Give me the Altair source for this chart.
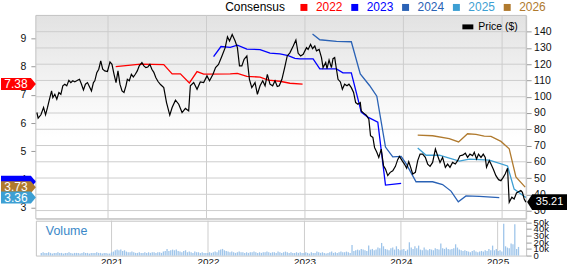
import altair as alt
import pandas as pd

FONT = "Liberation Sans"

# ---------------- data (decimal years / values) ----------------
price_t_2020 = [2020.279, 2020.292, 2020.320, 2020.347, 2020.367, 2020.387, 2020.407, 2020.428, 2020.441, 2020.461,
                2020.481, 2020.502, 2020.522, 2020.542, 2020.562, 2020.582, 2020.603, 2020.623, 2020.643, 2020.663,
                2020.691, 2020.711, 2020.731, 2020.751, 2020.771, 2020.792, 2020.812, 2020.832, 2020.852, 2020.866,
                2020.886, 2020.906, 2020.926, 2020.946, 2020.967, 2020.994]
price_v_2020 = [90.3, 86.8, 88.9, 93.4, 88.9, 93.4, 98.5, 103.6, 99.5, 101.5,
                98.5, 102.6, 101.5, 106.7, 107.7, 106.7, 110.1, 108.7, 109.8, 109.1,
                110.1, 110.7, 107.7, 104.2, 107.7, 108.7, 106.1, 103.6, 108.7, 109.8,
                114.8, 116.9, 122.0, 116.9, 115.9, 115.5]
price_t_2021 = [2021.020, 2021.040, 2021.061, 2021.081, 2021.101, 2021.121, 2021.142, 2021.162, 2021.182, 2021.196,
                2021.216, 2021.237, 2021.257, 2021.277, 2021.297, 2021.317, 2021.344, 2021.364, 2021.384, 2021.404,
                2021.425, 2021.445, 2021.465, 2021.485, 2021.506, 2021.533, 2021.566, 2021.594, 2021.627, 2021.651,
                2021.685, 2021.718, 2021.752, 2021.786, 2021.819, 2021.836, 2021.870, 2021.904, 2021.937, 2021.971]
price_v_2021 = [121.4, 119.9, 113.8, 108.7, 115.9, 107.7, 103.6, 102.6, 106.7, 110.7,
                109.8, 113.8, 112.2, 113.8, 115.9, 119.0, 121.0, 119.0, 117.9, 118.3,
                119.9, 116.9, 115.0, 111.8, 109.5, 107.5, 105.6, 96.4, 88.7, 93.4,
                97.9, 95.4, 90.3, 92.8, 91.3, 106.7, 108.7, 104.6, 109.1, 108.7]
price_t_2022 = [2022.005, 2022.031, 2022.066, 2022.092, 2022.122, 2022.157, 2022.190, 2022.213, 2022.234, 2022.261,
                2022.291, 2022.314, 2022.335, 2022.359, 2022.382, 2022.410, 2022.436, 2022.460, 2022.493, 2022.517,
                2022.544, 2022.571, 2022.595, 2022.618, 2022.645, 2022.672, 2022.696, 2022.719, 2022.739, 2022.766,
                2022.794, 2022.820, 2022.847, 2022.881, 2022.908, 2022.931, 2022.956, 2022.982]
price_v_2022 = [112.8, 109.8, 113.8, 117.9, 119.9, 125.1, 130.2, 136.9, 134.3, 138.3,
                134.3, 130.2, 119.0, 119.0, 123.0, 125.1, 110.7, 105.6, 108.7, 101.5,
                106.7, 109.8, 106.7, 113.8, 107.7, 106.7, 109.8, 106.3, 106.7, 110.7,
                117.9, 125.1, 127.0, 131.2, 134.9, 126.7, 125.1, 126.1]
price_t_2023 = [2023.016, 2023.032, 2023.057, 2023.077, 2023.100, 2023.117, 2023.144, 2023.168, 2023.184, 2023.211,
                2023.224, 2023.245, 2023.269, 2023.285, 2023.302, 2023.320, 2023.336, 2023.360, 2023.380, 2023.403,
                2023.427, 2023.447, 2023.471, 2023.494, 2023.515, 2023.538, 2023.562, 2023.572, 2023.596, 2023.623,
                2023.649, 2023.666, 2023.690, 2023.707, 2023.730, 2023.750, 2023.775, 2023.798, 2023.818, 2023.841,
                2023.866, 2023.892, 2023.919, 2023.942, 2023.960, 2023.987]
price_v_2023 = [130.2, 129.1, 132.2, 129.6, 131.2, 128.2, 129.1, 124.1, 117.9, 121.0,
                117.3, 122.6, 117.9, 123.4, 124.1, 116.9, 110.7, 109.1, 104.6, 107.7,
                106.7, 107.7, 105.6, 102.6, 96.4, 95.4, 96.4, 91.3, 89.9, 88.7,
                86.2, 76.0, 75.0, 68.8, 65.8, 62.7, 67.8, 57.6, 55.5, 51.5,
                53.5, 54.5, 57.2, 61.3, 63.3, 60.7]
price_t_2024 = [2024.010, 2024.033, 2024.054, 2024.068, 2024.094, 2024.121, 2024.145, 2024.169, 2024.195, 2024.222,
                2024.246, 2024.270, 2024.296, 2024.324, 2024.347, 2024.371, 2024.397, 2024.425, 2024.448, 2024.472,
                2024.498, 2024.526, 2024.549, 2024.573, 2024.600, 2024.627, 2024.650, 2024.674, 2024.701, 2024.718,
                2024.741, 2024.761, 2024.786, 2024.809, 2024.829, 2024.842, 2024.870, 2024.887, 2024.910, 2024.937,
                2024.964, 2024.988]
price_v_2024 = [58.6, 56.0, 60.1, 57.6, 52.5, 53.5, 60.7, 64.7, 64.7, 62.7,
                58.6, 57.2, 59.6, 67.8, 63.7, 59.6, 62.7, 56.6, 58.6, 56.6,
                59.6, 58.6, 60.7, 63.7, 64.1, 65.3, 62.7, 64.7, 63.7, 65.8,
                61.7, 64.7, 62.7, 64.7, 62.7, 56.6, 60.7, 58.6, 55.5, 51.5,
                49.0, 48.4]
price_t_2025 = [2025.011, 2025.031, 2025.055, 2025.072, 2025.099, 2025.122, 2025.146, 2025.166, 2025.190, 2025.206,
                2025.224, 2025.241]
price_v_2025 = [50.4, 52.5, 56.0, 35.1, 38.2, 37.1, 40.8, 41.6, 42.3, 41.2,
                37.1, 35.21]

# consensus EPS estimates (left axis)
c2022_t = [2021.078, 2021.331, 2021.566, 2021.651, 2021.735, 2021.826, 2021.904, 2021.971, 2022.241, 2022.314,
           2022.410, 2022.544, 2022.628, 2022.746, 2022.847, 2022.976]
c2022_v = [8.00, 8.09, 8.07, 7.74, 7.74, 7.42, 7.82, 7.73, 7.74, 7.76, 7.65, 7.63, 7.52, 7.48, 7.41, 7.38]
c2023_t = [2022.072, 2022.147, 2022.241, 2022.314, 2022.410, 2022.544, 2022.645, 2022.746, 2022.830, 2022.898,
           2022.948, 2023.083, 2023.151, 2023.320, 2023.386, 2023.471, 2023.572, 2023.639, 2023.740, 2023.818,
           2023.977]
c2023_v = [8.35, 8.71, 8.68, 8.76, 8.62, 8.60, 8.48, 8.45, 8.39, 8.29, 8.27, 8.27, 7.92, 7.92, 7.78, 7.78,
           6.39, 6.21, 6.03, 3.80, 3.86]
c2024_t = [2023.077, 2023.151, 2023.320, 2023.471, 2023.562, 2023.656, 2023.730, 2023.818, 2023.892, 2023.977,
           2024.027, 2024.128, 2024.296, 2024.397, 2024.482, 2024.556, 2024.634, 2024.769, 2024.971]
c2024_v = [9.15, 8.95, 8.89, 8.88, 7.74, 7.33, 6.95, 5.15, 4.80, 4.82, 4.56, 3.92, 3.92, 3.82, 3.59, 3.21,
           3.42, 3.40, 3.36]
c2025_t = [2024.145, 2024.230, 2024.364, 2024.566, 2024.667, 2024.870, 2025.055, 2025.122, 2025.241]
c2025_v = [5.12, 4.86, 4.86, 4.65, 4.72, 4.69, 4.48, 3.66, 3.36]
c2026_t = [2024.145, 2024.296, 2024.464, 2024.559, 2024.650, 2024.735, 2024.819, 2024.887, 2024.988, 2025.072,
           2025.140, 2025.234]
c2026_v = [5.57, 5.55, 5.45, 5.33, 5.62, 5.60, 5.54, 5.53, 5.35, 5.09, 4.09, 3.73]

cons_series = ["2022", "2023", "2024", "2025", "2026"]
cons_colors = ["#ff0000", "#0000ff", "#2a62b5", "#3d9fd3", "#b07a2e"]

# last-value tags on the left axis (drawn in this order; the 2023 tag is mostly hidden)
label_series = ["2022", "2023", "2026", "2025"]
label_values = [7.38, 3.92, 3.73, 3.36]
label_text = ["7.38", "", "3.73", "3.36"]
last_price = 35.21

price_ticks = [30, 40, 50, 60, 70, 80, 90, 100, 110, 120, 130, 140]
eps_ticks = [3, 4, 5, 6, 7, 8, 9]
year_ticks = [2021, 2022, 2023, 2024, 2025]

# weekly volume (thousands), from 2020-04-10
vol_start = "2020-04-10"
vol_2020 = [4, 5, 4, 4, 5, 4, 3, 4, 4, 5, 4, 4, 3, 4, 4, 5, 4, 3, 4, 4, 4, 3, 4, 5, 4, 4, 3, 4, 4, 4,
            5, 4, 4, 3, 4, 4, 3, 3]
vol_2021 = [5, 6, 8, 9, 8, 9, 7, 8, 6, 5, 5, 6, 5, 4, 4, 5, 4, 4, 5, 4, 5, 4, 5, 5, 4, 5, 5, 4, 6, 7,
            10, 7, 8, 9, 8, 9, 7, 6, 5, 7, 8, 5, 6, 5, 4, 6, 5, 5, 4, 5, 4, 4]
vol_2022 = [4, 5, 4, 5, 6, 5, 8, 9, 10, 8, 7, 6, 5, 6, 5, 4, 5, 6, 5, 5, 4, 5, 4, 5, 5, 6, 5, 4, 5, 4,
            5, 5, 6, 5, 4, 5, 5, 4, 6, 5, 4, 5, 6, 5, 4, 5, 4, 4, 5, 4, 5, 4]
vol_2023 = [4, 5, 4, 3, 5, 4, 4, 6, 5, 4, 5, 4, 3, 4, 5, 6, 4, 5, 4, 5, 6, 5, 5, 6, 5, 4,
            16, 7, 8, 9, 8, 10, 9, 8, 7, 15, 9, 10, 8, 9, 12, 11, 19, 14, 10, 9, 8, 11, 12, 9, 14, 10]
vol_2024 = [8, 9, 10, 7, 9, 20, 12, 10, 14, 11, 15, 9, 8, 12, 9, 8, 10, 9, 8, 11, 10, 9, 18, 11, 10, 12,
            10, 9, 10, 11, 17, 12, 9, 8, 7, 8, 7, 6, 5, 7, 8, 6, 5, 6, 7, 6, 8, 7, 10, 8, 15, 8]
vol_2025 = [10, 7, 8, 6, 48, 14, 12, 11, 18, 17, 47, 10, 13]
vol_ticks = [0, 10, 20, 30, 40, 50]

x_start, x_end = 2020.269, 2025.244
price_domain = [25, 150]
eps_domain = [2.612, 9.812]
vol_domain = [0, 52.5]


# ---------------- helpers ----------------
def to_ts(t):
    y = int(t)
    a = pd.Timestamp(year=y, month=1, day=1)
    b = pd.Timestamp(year=y + 1, month=1, day=1)
    return a + (b - a) * (t - y)


def to_dt(t):
    ts = to_ts(t)
    return alt.DateTime(year=ts.year, month=ts.month, date=ts.day, hours=ts.hour, minutes=ts.minute)


price_t = price_t_2020 + price_t_2021 + price_t_2022 + price_t_2023 + price_t_2024 + price_t_2025
price_v = price_v_2020 + price_v_2021 + price_v_2022 + price_v_2023 + price_v_2024 + price_v_2025
price_df = pd.DataFrame({"date": [to_ts(t) for t in price_t], "price": price_v, "name": "Price ($)"})

rows = []
for s, ts, vs in zip(cons_series, [c2022_t, c2023_t, c2024_t, c2025_t, c2026_t],
                     [c2022_v, c2023_v, c2024_v, c2025_v, c2026_v]):
    for t, v in zip(ts, vs):
        rows.append({"date": to_ts(t), "eps": v, "series": s})
cons_df = pd.DataFrame(rows)

label_df = pd.DataFrame({"series": label_series, "eps": label_values, "txt": label_text})
last_df = pd.DataFrame({"price": [last_price], "txt": [f"{last_price:.2f}"]})

vol_values = vol_2020 + vol_2021 + vol_2022 + vol_2023 + vol_2024 + vol_2025
vol_df = pd.DataFrame({"date": pd.date_range(vol_start, periods=len(vol_values), freq="7D"), "v": vol_values})

years_df = pd.DataFrame({"d": [pd.Timestamp(year=y, month=1, day=1) for y in year_ticks]})
one = pd.DataFrame({"a": [0]})

W, H_MAIN, H_VOL = 492, 204, 35

xscale = alt.Scale(domain=[to_dt(x_start), to_dt(x_end)])
price_scale = alt.Scale(domain=price_domain, nice=False, zero=False)
eps_scale = alt.Scale(domain=eps_domain, nice=False, zero=False)
vol_scale = alt.Scale(domain=vol_domain, nice=False)

color_expr = ("datum.value == '2022' ? '#ff0000' : datum.value == '2023' ? '#0000ff' : "
              "datum.value == '2024' ? '#2a62b5' : datum.value == '2025' ? '#3d9fd3' : '#b07a2e'")

cons_legend = alt.Legend(
    orient="none", legendX=190, legendY=-14, direction="horizontal",
    title="Consensus", titleOrient="left", titleFontSize=12, titleFontWeight="normal",
    titleColor="#000000", titleFont=FONT, titlePadding=12,
    labelFontSize=12, labelFont=FONT, symbolType="square", symbolSize=49,
    symbolStrokeWidth=0, labelOffset=6, columnPadding=6, padding=0,
    labelColor={"expr": color_expr}, symbolFillColor={"expr": color_expr}, symbolOpacity=1,
)
price_legend = alt.Legend(
    orient="none", legendX=428, legendY=6, title=None, labelFontSize=10.5, labelFont=FONT,
    labelColor="#000000", symbolType="M-1,-0.45L1,-0.45L1,0.45L-1,0.45Z", symbolSize=121,
    labelOffset=5, padding=0, symbolFillColor="#000000", symbolStrokeWidth=0, symbolOpacity=1,
)

left_axis = alt.Axis(orient="left", values=eps_ticks, title=None, tickSize=5, labelPadding=5,
                     domain=False, grid=False, labelFontSize=10.5, labelFont=FONT,
                     labelColor="#111111", tickColor="#999999")
right_axis = alt.Axis(orient="right", values=price_ticks, title=None, tickSize=5, labelPadding=2.5,
                      domain=False, grid=False, labelFontSize=10.5, labelFont=FONT,
                      labelColor="#111111", tickColor="#999999", labelOverlap=False)

bg_fill = alt.Gradient(
    gradient="linear",
    stops=[alt.GradientStop(color="#e2e2e2", offset=0),
           alt.GradientStop(color="#f4f4f4", offset=0.35),
           alt.GradientStop(color="#ffffff", offset=0.6),
           alt.GradientStop(color="#ffffff", offset=1)],
    x1=0, x2=0, y1=0, y2=1,
)

# ---------------- main panel ----------------
bg = alt.Chart(one).mark_rect(fill=bg_fill, stroke="#c4c4c4", strokeWidth=1).encode(
    x=alt.value(0), x2=alt.value("width"), y=alt.value(0), y2=alt.value("height"))
hgrid = alt.Chart(pd.DataFrame({"p": price_ticks})).mark_rule(color="#cdcdcd", strokeWidth=1).encode(
    y=alt.Y("p:Q", scale=price_scale, axis=right_axis))
vgrid = alt.Chart(years_df).mark_rule(color="#cdcdcd", strokeWidth=1).encode(
    x=alt.X("d:T", scale=xscale, axis=None))
base = alt.layer(bg, hgrid, vgrid)

left_tag = "M-1,-0.343L0.714,-0.343L1,0L0.714,0.343L-1,0.343Z"
right_tag = "M-1,0L-0.75,-0.4L1,-0.4L1,0.4L-0.75,0.4Z"

cons_lines = alt.Chart(cons_df).mark_line(strokeWidth=1.3).encode(
    x=alt.X("date:T", scale=xscale, axis=None),
    y=alt.Y("eps:Q", scale=eps_scale, axis=left_axis),
    color=alt.Color("series:N", scale=alt.Scale(domain=cons_series, range=cons_colors), legend=cons_legend),
)
tag_layers = []
for s in label_series:
    box = alt.Chart(label_df).transform_filter(alt.datum.series == s).mark_point(
        shape=left_tag, size=1225, filled=True, opacity=1, strokeWidth=0).encode(
        x=alt.value(-17.5),
        y=alt.Y("eps:Q", scale=eps_scale, axis=left_axis),
        fill=alt.Fill("series:N", scale=alt.Scale(domain=cons_series, range=cons_colors), legend=None),
    )
    txt = alt.Chart(label_df).transform_filter(alt.datum.series == s).mark_text(
        color="white", fontSize=12, font=FONT, align="center", baseline="middle").encode(
        x=alt.value(-20), y=alt.Y("eps:Q", scale=eps_scale, axis=left_axis), text="txt:N")
    tag_layers += [box, txt]
eps_group = alt.layer(cons_lines, *tag_layers)

price_line = alt.Chart(price_df).mark_line(strokeWidth=1.2).encode(
    x=alt.X("date:T", scale=xscale, axis=None),
    y=alt.Y("price:Q", scale=price_scale, axis=None),
    color=alt.Color("name:N", scale=alt.Scale(domain=["Price ($)"], range=["#000000"]), legend=price_legend),
)
price_tag = alt.Chart(last_df).mark_point(shape=right_tag, size=1600, filled=True, color="#000000",
                                          opacity=1, strokeWidth=0).encode(
    x=alt.value(W + 21), y=alt.Y("price:Q", scale=price_scale, axis=None))
price_txt = alt.Chart(last_df).mark_text(color="white", fontSize=11, font=FONT, align="center",
                                         baseline="middle").encode(
    x=alt.value(W + 23.5), y=alt.Y("price:Q", scale=price_scale, axis=None), text="txt:N")
price_group = alt.layer(price_line, price_tag, price_txt)

main = alt.layer(base, eps_group, price_group).resolve_scale(
    y="independent", color="independent").properties(width=W, height=H_MAIN)

# ---------------- volume panel ----------------
vol_x_axis = alt.Axis(values=[alt.DateTime(year=y, month=1, date=1) for y in year_ticks], format="%Y",
                      title=None, tickSize=0, labelPadding=1, domain=False, grid=False,
                      labelFontSize=10, labelFont=FONT, labelColor="#111111")
vol_y_axis = alt.Axis(orient="right", values=vol_ticks, title=None, tickSize=5, labelPadding=2,
                      domain=False, grid=False, labelFontSize=9.5, labelFont=FONT,
                      labelColor="#111111", tickColor="#999999", labelOverlap=False,
                      labelExpr="datum.value == 0 ? '0' : datum.value + 'k'")

vol_grid = alt.Chart(years_df).mark_rule(color="#cdcdcd", strokeWidth=1).encode(
    x=alt.X("d:T", scale=xscale, axis=vol_x_axis))
vol_bars = alt.Chart(vol_df).mark_bar(size=1.3, color="#9fc5ea").encode(
    x=alt.X("date:T", scale=xscale, axis=vol_x_axis),
    y=alt.Y("v:Q", scale=vol_scale, axis=vol_y_axis))
vol_text = alt.Chart(one).mark_text(text="Volume", align="left", baseline="middle", fontSize=12.5,
                                    font=FONT, color="#3a87c8").encode(x=alt.value(10), y=alt.value(10))
vol = alt.layer(vol_grid, vol_bars, vol_text).properties(width=W, height=H_VOL)

chart = alt.vconcat(main, vol, spacing=2, bounds="flush").resolve_scale(
    x="independent", y="independent", color="independent", fill="independent"
).properties(padding=0).configure(font=FONT).configure_view(stroke="#c4c4c4")

chart.save("out.html", embed_options={"renderer": "svg", "actions": False})
